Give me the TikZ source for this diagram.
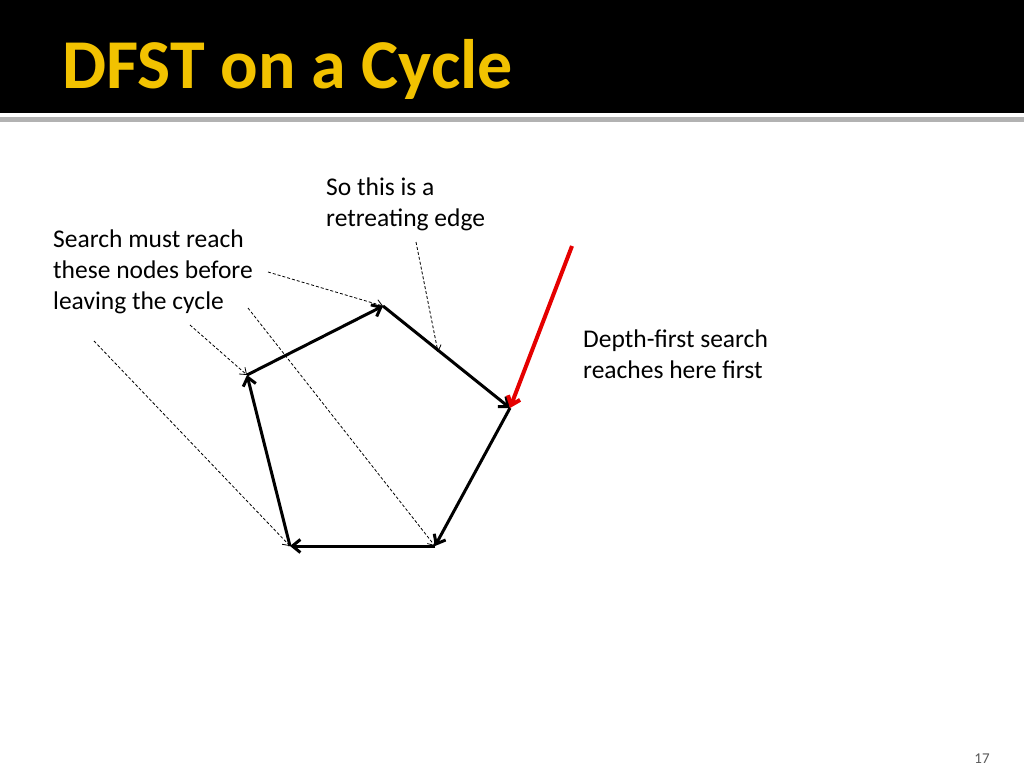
\documentclass[tikz,border=0pt]{standalone}
\usepackage{fontspec}
\setmainfont{Carlito}
\usetikzlibrary{arrows.meta}
\definecolor{titley}{HTML}{F2C200}
\begin{document}
\begin{tikzpicture}[x=1pt,y=-1pt,
  edge/.style={line width=3pt,-{Straight Barb[length=8pt,width=13pt]}},
  note/.style={densely dashed,line width=0.8pt,-{Straight Barb[length=6pt,width=9pt]}},
  txt/.style={anchor=north west,align=left,font=\fontsize{25.5}{31}\selectfont,inner sep=0pt}]
\useasboundingbox (0,0) rectangle (1024,768);
\fill[black] (0,0) rectangle (1024,113);
\fill[gray!60] (0,117) rectangle (1024,122);
\node[anchor=base west,inner sep=0pt,text=titley,font=\fontsize{70}{80}\bfseries\selectfont] (title) at (62,88) {DFST on a Cycle};
\coordinate (A) at (510,408);
\coordinate (B) at (435,546);
\coordinate (C) at (290,546);
\coordinate (D) at (247,375);
\coordinate (E) at (383,306);
\coordinate (R) at (572,246);
\coordinate (M) at (438,352);
\draw[edge] (A) -- (B);
\draw[edge] (B) -- (C);
\draw[edge] (C) -- (D);
\draw[edge] (D) -- (E);
\draw[edge] (E) -- (A);
\draw[edge,line width=4pt,red!90!black] (R) -- (A);
\node[txt] (t1) at (53,230) {Search must reach\\these nodes before\\leaving the cycle};
\node[txt] (t2) at (326,178) {So this is a\\retreating edge};
\node[txt] (t3) at (583,330) {Depth-first search\\reaches here first};
\coordinate (s1) at (268,272);
\coordinate (s2) at (190,325);
\coordinate (s3) at (94,341);
\coordinate (s4) at (248,308);
\coordinate (s5) at (416,242);
\draw[note] (s1) -- (E);
\draw[note] (s2) -- (D);
\draw[note] (s3) -- (C);
\draw[note] (s4) -- (B);
\draw[note] (s5) -- (M);
\node[anchor=base,inner sep=0pt,text=gray!70!black,font=\fontsize{15}{18}\selectfont] (pg) at (982,763) {17};
\end{tikzpicture}
\end{document}
